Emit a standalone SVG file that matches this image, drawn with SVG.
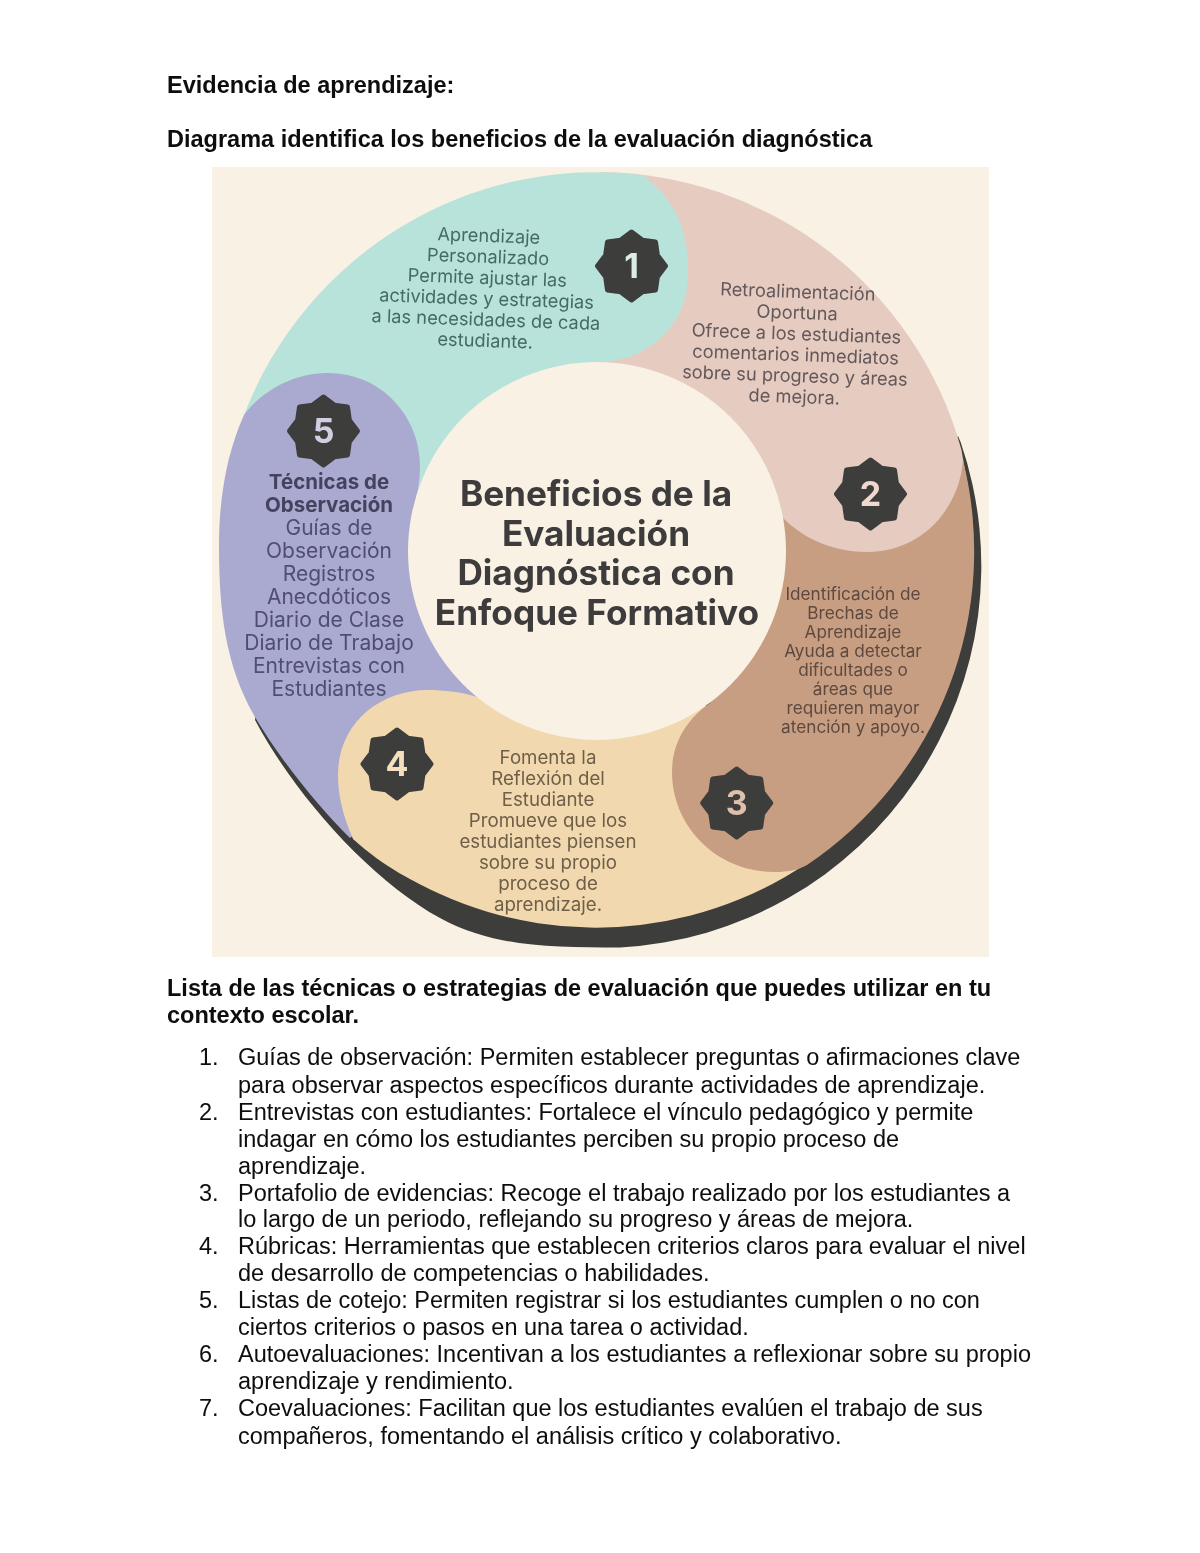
<svg xmlns="http://www.w3.org/2000/svg" width="1200" height="1553" viewBox="0 0 1200 1553">
<style>
.doc{font-family:"Liberation Sans",Arial,sans-serif;font-size:23.5px;fill:#0c0c0c}
.b{font-weight:bold}
.n{font-family:Inter,"Open Sans",sans-serif;text-anchor:middle}
.t1{font-size:18.3px;fill:#456b65}
.t2{font-size:18.3px;fill:#64585a}
.t3{font-size:17.2px;fill:#5d4a40}
.t4{font-size:18.7px;fill:#6e5f49}
.t5{font-size:21px;fill:#4f4e72}
.t5b{font-size:20.5px;font-weight:700;fill:#45435f}
.title{font-size:35.2px;font-weight:700;fill:#3c3b3a}
.d{font-size:34px;font-weight:700}
.star{fill:#3d3c3b;stroke:#3d3c3b;stroke-width:5;stroke-linejoin:round}
</style>
<defs>
<polygon id="star" points="0,-34 10.7,-25.9 24,-24 25.9,-10.7 34,0 25.9,10.7 24,24 10.7,25.9 0,34 -10.7,25.9 -24,24 -25.9,10.7 -34,0 -25.9,-10.7 -24,-24 -10.7,-25.9"/>
<filter id="soft" x="0" y="0" width="100%" height="100%"><feGaussianBlur stdDeviation="0.45"/></filter>
<filter id="softer" x="-2%" y="-2%" width="104%" height="104%"><feGaussianBlur stdDeviation="0.25"/></filter>
</defs>
<rect width="1200" height="1553" fill="#ffffff"/>
<g id="heading" class="doc b" filter="url(#softer)">
<text x="167" y="93">Evidencia de aprendizaje:</text>
<text x="167" y="147">Diagrama identifica los beneficios de la evaluación diagnóstica</text>
</g>
<g id="diagram" filter="url(#soft)">
<rect x="212" y="167" width="777" height="790" fill="#f8f1e4"/>
<path id="outer-ring" fill="#3d3c3b" d="M958,436 L960.6,442 A382,382 0 0 1 620,947.5 C550,947.5 492.6,946.8 440,918 C372,881 296,797 255,720 L258,700 L400,700 L800,600 Z"/>
<g id="node-2">
<path fill="#e5cbc0" d="M600,172 A378,378 0 0 1 961.5,450 L970,500 L867,600 L780,540 L600,400 Z"/>
<use href="#star" class="star" x="870.5" y="494"/>
<text class="n d" x="870.5" y="506" fill="#eed9cf">2</text>
<g class="n t2" transform="rotate(2 796 345)">
<text x="796" y="298">Retroalimentación</text>
<text x="796" y="319">Oportuna</text>
<text x="796" y="340">Ofrece a los estudiantes</text>
<text x="796" y="361">comentarios inmediatos</text>
<text x="796" y="382">sobre su progreso y áreas</text>
<text x="796" y="403">de mejora.</text>
</g>
</g>
<g id="node-1">
<path fill="#b8e3da" d="M643,175 C665,192 681,215 685,240 C690,265 690,290 680,312 C670,332 645,362 597,362 L450,500 L300,500 L244,415 A378,378 0 0 1 643,175 Z"/>
<use href="#star" class="star" x="631.5" y="266"/>
<text class="n d" x="631.5" y="278" fill="#dcece6">1</text>
<g class="n t1" transform="rotate(2 487 288)">
<text x="487" y="242">Aprendizaje</text>
<text x="487" y="263">Personalizado</text>
<text x="487" y="284">Permite ajustar las</text>
<text x="487" y="305">actividades y estrategias</text>
<text x="487" y="326">a las necesidades de cada</text>
<text x="487" y="347">estudiante.</text>
</g>
</g>
<g id="node-5">
<path fill="#aaa9cf" d="M244,415 C260,393 292,373 327,373 C385,373 420,420 420,465 C420,485 416,500 412,515 L480,600 L477,697 L450,760 L350,838 C320,809 277.5,756 255,717 C225,665 219,610 219,545 C219,495 228,450 244,415 Z"/>
<use href="#star" class="star" x="323.5" y="431"/>
<text class="n d" x="323.5" y="443" fill="#cfcee2">5</text>
<g class="n">
<text class="t5b" x="329" y="489">Técnicas de</text>
<text class="t5b" x="329" y="512">Observación</text>
<g class="t5">
<text x="329" y="535">Guías de</text>
<text x="329" y="558">Observación</text>
<text x="329" y="581">Registros</text>
<text x="329" y="604">Anecdóticos</text>
<text x="329" y="627">Diario de Clase</text>
<text x="329" y="650">Diario de Trabajo</text>
<text x="329" y="673">Entrevistas con</text>
<text x="329" y="696">Estudiantes</text>
</g>
</g>
</g>
<g id="node-4">
<path fill="#f2d8ae" d="M353,839 C345,820 338,800 338,775 C338,725 378,690 428,690 C445,690 462,692 477,697 L600,600 L720,720 L828,848 A378,378 0 0 1 440,894 C415,882 385,868 353,839 Z"/>
<use href="#star" class="star" x="397" y="764"/>
<text class="n d" x="397" y="776" fill="#f4e0bf">4</text>
<g class="n t4">
<text x="548" y="764">Fomenta la</text>
<text x="548" y="785">Reflexión del</text>
<text x="548" y="806">Estudiante</text>
<text x="548" y="827">Promueve que los</text>
<text x="548" y="848">estudiantes piensen</text>
<text x="548" y="869">sobre su propio</text>
<text x="548" y="890">proceso de</text>
<text x="548" y="911">aprendizaje.</text>
</g>
</g>
<g id="node-3">
<path fill="#c89e82" d="M963,460 C960,505 925,552 867,552 C835,552 805,540 783,518 L710,703 C688,718 672,742 672,772 C672,825 715,872 775,872 C788,872 798,870 807,865 A378,378 0 0 0 963,460 Z"/>
<use href="#star" class="star" x="736.7" y="803"/>
<text class="n d" x="736.7" y="815" fill="#dcc0ac">3</text>
<g class="n t3">
<text x="853" y="600">Identificación de</text>
<text x="853" y="619">Brechas de</text>
<text x="853" y="638">Aprendizaje</text>
<text x="853" y="657">Ayuda a detectar</text>
<text x="853" y="676">dificultades o</text>
<text x="853" y="695">áreas que</text>
<text x="853" y="714">requieren mayor</text>
<text x="853" y="733">atención y apoyo.</text>
</g>
</g>
<g id="center">
<circle cx="597" cy="551" r="189" fill="#f8f1e4"/>
<g class="n title">
<text x="596" y="506">Beneficios de la</text>
<text x="596" y="546">Evaluación</text>
<text x="596" y="585">Diagnóstica con</text>
<text x="597" y="625">Enfoque Formativo</text>
</g>
</g>
</g>
<g id="list-heading" class="doc b" filter="url(#softer)">
<text x="167" y="996">Lista de las técnicas o estrategias de evaluación que puedes utilizar en tu</text>
<text x="167" y="1023">contexto escolar.</text>
</g>
<g id="list" class="doc" filter="url(#softer)">
<text x="199" y="1065">1.</text><text x="238" y="1065">Guías de observación: Permiten establecer preguntas o afirmaciones clave</text>
<text x="238" y="1093">para observar aspectos específicos durante actividades de aprendizaje.</text>
<text x="199" y="1120">2.</text><text x="238" y="1120">Entrevistas con estudiantes: Fortalece el vínculo pedagógico y permite</text>
<text x="238" y="1147">indagar en cómo los estudiantes perciben su propio proceso de</text>
<text x="238" y="1174">aprendizaje.</text>
<text x="199" y="1201">3.</text><text x="238" y="1201">Portafolio de evidencias: Recoge el trabajo realizado por los estudiantes a</text>
<text x="238" y="1227">lo largo de un periodo, reflejando su progreso y áreas de mejora.</text>
<text x="199" y="1254">4.</text><text x="238" y="1254">Rúbricas: Herramientas que establecen criterios claros para evaluar el nivel</text>
<text x="238" y="1281">de desarrollo de competencias o habilidades.</text>
<text x="199" y="1308">5.</text><text x="238" y="1308">Listas de cotejo: Permiten registrar si los estudiantes cumplen o no con</text>
<text x="238" y="1335">ciertos criterios o pasos en una tarea o actividad.</text>
<text x="199" y="1362">6.</text><text x="238" y="1362">Autoevaluaciones: Incentivan a los estudiantes a reflexionar sobre su propio</text>
<text x="238" y="1389">aprendizaje y rendimiento.</text>
<text x="199" y="1416">7.</text><text x="238" y="1416">Coevaluaciones: Facilitan que los estudiantes evalúen el trabajo de sus</text>
<text x="238" y="1444">compañeros, fomentando el análisis crítico y colaborativo.</text>
</g>
</svg>
